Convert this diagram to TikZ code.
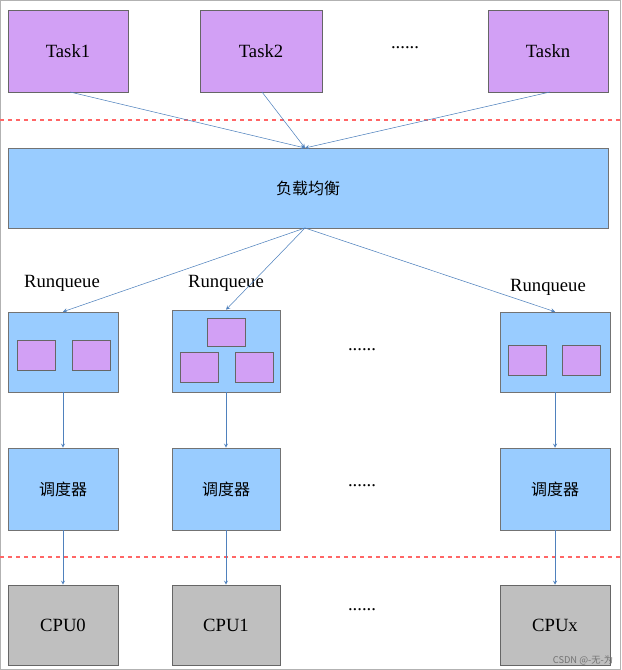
\documentclass[tikz,border=0pt]{standalone}
\usepackage{fontspec}
\setmainfont{Liberation Serif}
\newfontfamily\cjk{Noto Sans CJK SC}
\begin{document}
\begin{tikzpicture}[x=0.75pt,y=-0.75pt,
  task/.style={draw=black!60,fill=violet!40!magenta!30!white,fill=purple!25!violet!35!white},
  blu/.style={draw=black!55,fill=cyan!25!blue!30!white},
  sm/.style={draw=black!60,fill=violet!35!white},
  cpu/.style={draw=black!60,fill=black!25},
  arr/.style={->,>=stealth,draw=blue!50!cyan!70!black!80},
  sep/.style={draw=red!60,dashed,line width=0.8pt},
  lbl/.style={font=\fontsize{14}{16}\selectfont}]
\useasboundingbox (0,0) rectangle (621,670);
\draw[black!30] (0.5,0.5) rectangle (620.5,669.5);
\tikzset{task/.style={draw=black!60,fill={rgb,255:red,210;green,160;blue,245}},
 blu/.style={draw=black!55,fill={rgb,255:red,153;green,204;blue,255}},
 sm/.style={draw=black!60,fill={rgb,255:red,210;green,160;blue,245}},
 arr/.style={->,>=stealth,draw={rgb,255:red,79;green,129;blue,189}}}
\node[task,minimum width=90pt,minimum height=61.5pt,lbl] (t1) at (68,51) {Task1};
\node[task,minimum width=91.5pt,minimum height=61.5pt,lbl] (t2) at (261,51) {Task2};
\node[lbl] (d0) at (405,48) {......};
\node[task,minimum width=90pt,minimum height=61.5pt,lbl] (tn) at (548,51) {Taskn};
\draw[sep] (0,120) -- (621,120);
\node[blu,minimum width=450pt,minimum height=60pt,font=\cjk\fontsize{12}{14}\selectfont] (lb) at (308,188) {负载均衡};
\coordinate (in) at (305,148);
\draw[arr] (70,92) -- (in);
\draw[arr] (262,92) -- (in);
\draw[arr] (550,92) -- (in);
\coordinate (out) at (305,228);
\node[lbl] (r1l) at (62,283) {Runqueue};
\node[lbl] (r2l) at (226,283) {Runqueue};
\node[lbl] (r3l) at (548,287) {Runqueue};
\node[blu,minimum width=82.5pt,minimum height=60pt] (r1) at (63,352) {};
\node[blu,minimum width=81pt,minimum height=61.5pt] (r2) at (226,351) {};
\node[blu,minimum width=82.5pt,minimum height=60pt] (r3) at (555,352) {};
\draw[arr] (out) -- (r1.north);
\draw[arr] (out) -- (r2.north);
\draw[arr] (out) -- (r3.north);
\node[sm,minimum width=28.5pt,minimum height=22.5pt] (a1) at (36,355) {};
\node[sm,minimum width=28.5pt,minimum height=22.5pt] (a2) at (91,355) {};
\node[sm,minimum width=28.5pt,minimum height=21pt] (b1) at (226,332) {};
\node[sm,minimum width=28.5pt,minimum height=22.5pt] (b2) at (199,367) {};
\node[sm,minimum width=28.5pt,minimum height=22.5pt] (b3) at (254,367) {};
\node[sm,minimum width=28.5pt,minimum height=22.5pt] (c1) at (527,360) {};
\node[sm,minimum width=28.5pt,minimum height=22.5pt] (c2) at (581,360) {};
\node[lbl] (d1) at (362,350) {......};
\tikzset{cj/.style={font=\cjk\fontsize{12}{14}\selectfont}}
\node[blu,minimum width=82.5pt,minimum height=61.5pt,cj] (s1) at (63,489) {调度器};
\node[blu,minimum width=81pt,minimum height=61.5pt,cj] (s2) at (226,489) {调度器};
\node[blu,minimum width=82.5pt,minimum height=61.5pt,cj] (s3) at (555,489) {调度器};
\node[lbl] (d2) at (362,486) {......};
\draw[arr] (r1) -- (s1);
\draw[arr] (r2) -- (s2);
\draw[arr] (r3) -- (s3);
\draw[sep] (0,557) -- (621,557);
\node[cpu,minimum width=82.5pt,minimum height=60pt,lbl] (p1) at (63,625) {CPU0};
\node[cpu,minimum width=81pt,minimum height=60pt,lbl] (p2) at (226,625) {CPU1};
\node[cpu,minimum width=82.5pt,minimum height=60pt,lbl] (p3) at (555,625) {CPUx};
\node[lbl] (d3) at (362,610) {......};
\draw[arr] (s1) -- (p1);
\draw[arr] (s2) -- (p2);
\draw[arr] (s3) -- (p3);
\node[font=\cjk\fontsize{7}{8}\selectfont,text=black!55,anchor=east] (wm) at (618,660) {CSDN @-无-为};
\end{tikzpicture}
\end{document}
